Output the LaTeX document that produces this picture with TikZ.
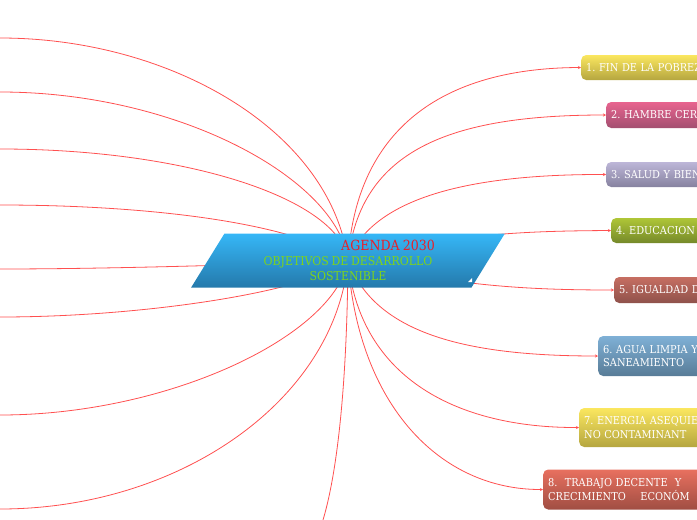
\documentclass[tikz,border=0pt]{standalone}
\usepackage{fontspec}
\setmainfont[WordSpace=0.75]{DejaVu Serif Condensed}
\frenchspacing
\usetikzlibrary{shapes.geometric,backgrounds,arrows.meta}
\definecolor{linkred}{HTML}{FF5050}
\definecolor{titlered}{HTML}{E8202A}
\definecolor{titlegreen}{HTML}{7FD41A}
\definecolor{hubtop}{HTML}{36B7F7}
\definecolor{hubbot}{HTML}{2479AB}
\definecolor{gt1}{HTML}{FBE75F}\definecolor{gb1}{HTML}{B5A640}
\definecolor{gt2}{HTML}{E8648F}\definecolor{gb2}{HTML}{A34F70}
\definecolor{gt3}{HTML}{BDB6D8}\definecolor{gb3}{HTML}{86829F}
\definecolor{gt4}{HTML}{AFC637}\definecolor{gb4}{HTML}{75892A}
\definecolor{gt5}{HTML}{C66E62}\definecolor{gb5}{HTML}{8F524B}
\definecolor{gt6}{HTML}{7FB0D6}\definecolor{gb6}{HTML}{587C97}
\definecolor{gt8}{HTML}{E8705F}\definecolor{gb8}{HTML}{A04E43}
\tikzset{
  x=1pt,y=-1pt,
  goal/.style={anchor=west,rounded corners=5pt,text=white,align=left,text width=190pt,
    inner xsep=5pt,inner ysep=0pt,minimum width=200pt,font=\fontsize{10.9}{13.2}\selectfont},
  hub/.style={trapezium,trapezium left angle=60,trapezium right angle=120,trapezium stretches=true,
    minimum width=314pt,minimum height=54pt,inner sep=0pt,top color=hubtop,bottom color=hubbot,
    align=center,font=\fontsize{12.2}{15}\selectfont},
  link/.style={draw=linkred,line width=0.8pt},
  linkhead/.style={link,-{Stealth[length=3pt,width=3pt]}}
}
\begin{document}
\begin{tikzpicture}
\useasboundingbox (0,0) rectangle (697,520);
\clip (0,0) rectangle (697,520);
\node[hub] (agenda) at (348,260.5) {\hspace*{80pt}\textcolor{titlered}{\fontsize{14}{15}\selectfont AGENDA 2030}\\
  \textcolor{titlegreen}{OBJETIVOS DE DESARROLLO}\\ \textcolor{titlegreen}{SOSTENIBLE}};
\fill[white] (472,278) -- (472,282) -- (468,282) -- cycle;
\node[goal,minimum height=25pt,top color=gt1,bottom color=gb1] (g1) at (581,67.5) {1. FIN DE LA POBREZ};
\node[goal,minimum height=26pt,top color=gt2,bottom color=gb2] (g2) at (606,115) {2. HAMBRE CER};
\node[goal,minimum height=25pt,top color=gt3,bottom color=gb3] (g3) at (606,174.5) {3. SALUD Y BIEN};
\node[goal,minimum height=25pt,top color=gt4,bottom color=gb4] (g4) at (611,230.5) {4. EDUCACION};
\node[goal,minimum height=26pt,top color=gt5,bottom color=gb5] (g5) at (614,290) {5. IGUALDAD D};
\node[goal,minimum height=40pt,top color=gt6,bottom color=gb6] (g6) at (598,356) {6. AGUA LIMPIA Y\\SANEAMIENTO};
\node[goal,minimum height=39pt,top color=gt1,bottom color=gb1] (g7) at (579,427.5) {7. ENERGIA ASEQUIE\\NO CONTAMINANT};
\node[goal,minimum height=40pt,top color=gt8,bottom color=gb8] (g8) at (543,489.5) {8.\ \ TRABAJO DECENTE\ \ Y\\CRECIMIENTO\ \ \ \ ECONÓM};
\coordinate (l1) at (0,38);
\coordinate (l2) at (0,92);
\coordinate (l3) at (0,149);
\coordinate (l4) at (0,205);
\coordinate (l5) at (0,269);
\coordinate (l6) at (0,317);
\coordinate (l7) at (0,415);
\coordinate (l8) at (0,509);
\coordinate (l9) at (323,520);
\begin{scope}[on background layer]
\clip (0,0) rectangle (697,520);
\draw[link] (agenda.center) .. controls (330,130) and (170,38) .. (l1);
\draw[link] (agenda.center) .. controls (338,180) and (180,92) .. (l2);
\draw[link] (agenda.center) .. controls (340,200) and (190,149) .. (l3);
\draw[link] (agenda.center) .. controls (295,223) and (150,205) .. (l4);
\draw[link] (agenda.center) .. controls (250,265) and (100,269) .. (l5);
\draw[link] (agenda.center) .. controls (315,290) and (150,317) .. (l6);
\draw[link] (agenda.center) .. controls (335,335) and (170,415) .. (l7);
\draw[link] (agenda.center) .. controls (335,400) and (180,509) .. (l8);
\draw[link] (agenda.center) .. controls (347,380) and (338,470) .. (l9);
\draw[linkhead] (agenda.center) .. controls (355,140) and (430,68) .. (g1.west);
\draw[linkhead] (agenda.center) .. controls (360,150) and (450,115) .. (g2.west);
\draw[linkhead] (agenda.center) .. controls (370,205) and (450,174) .. (g3.west);
\draw[linkhead] (agenda.center) .. controls (450,233) and (530,231) .. (g4.west);
\draw[linkhead] (agenda.center) .. controls (450,285) and (520,290) .. (g5.west);
\draw[linkhead] (agenda.center) .. controls (375,335) and (470,356) .. (g6.west);
\draw[linkhead] (agenda.center) .. controls (360,380) and (460,428) .. (g7.west);
\draw[linkhead] (agenda.center) .. controls (358,405) and (440,490) .. (g8.west);
\end{scope}
\end{tikzpicture}
\end{document}
